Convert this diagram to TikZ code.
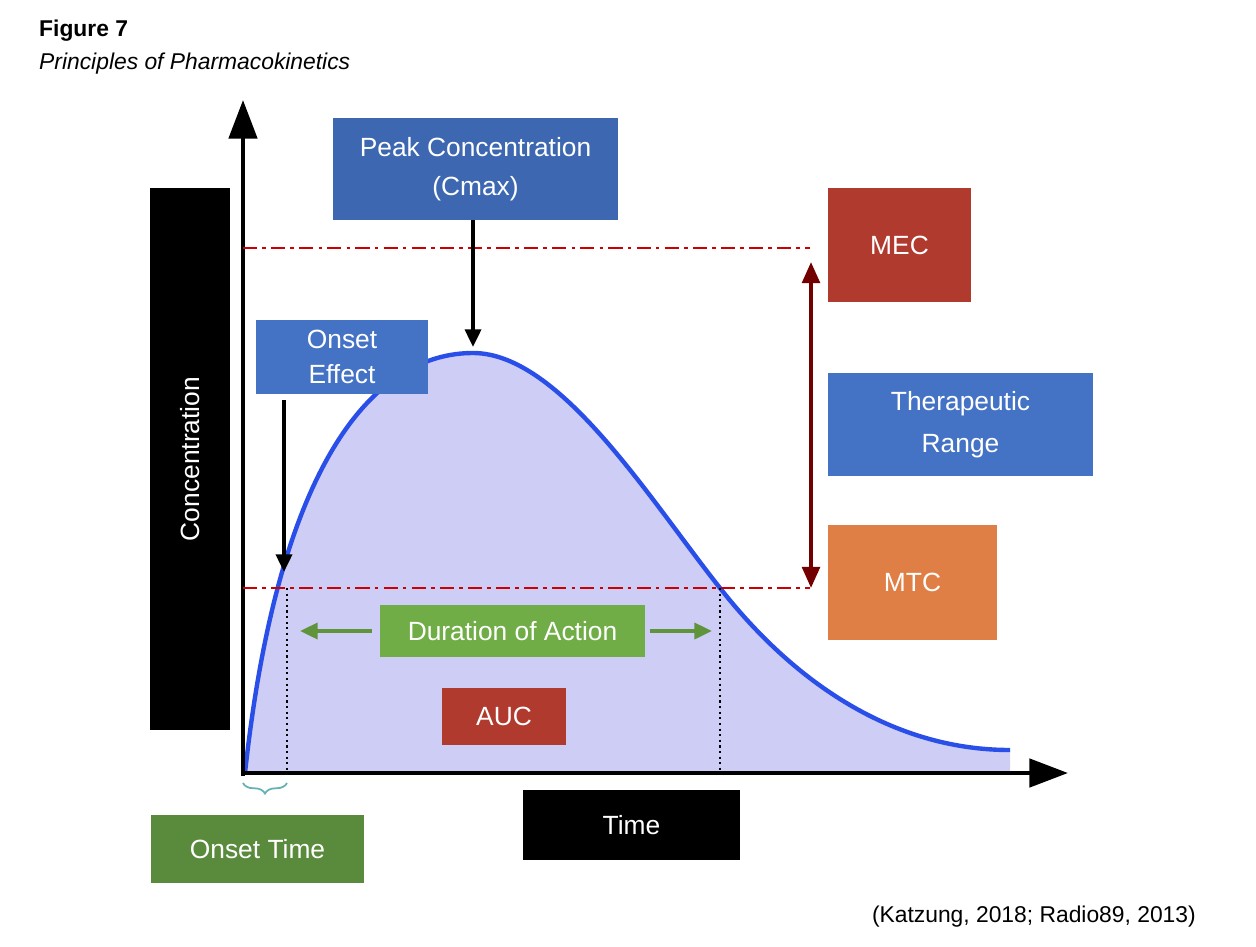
\documentclass[tikz,border=0pt]{standalone}
\usepackage{fontspec}
\setmainfont{Liberation Sans}
\usetikzlibrary{arrows.meta,decorations.pathreplacing}
\definecolor{bblue}{HTML}{4472C4}
\definecolor{rred}{HTML}{B03A2E}
\definecolor{oorange}{HTML}{E07F45}
\definecolor{ggreen}{HTML}{70AD47}
\definecolor{dgreen}{HTML}{5A8A3C}
\definecolor{lav}{HTML}{CDCDF5}
\definecolor{cblue}{HTML}{2A4FE8}
\begin{document}
\begin{tikzpicture}[x=0.02cm,y=-0.02cm,
 box/.style={draw=none,text=white,align=center,font=\fontsize{15}{18}\selectfont,inner sep=0pt},
 dd/.style={red!80!black,line width=1.2pt,dash pattern=on 8pt off 3pt on 2pt off 3pt},
 ar/.style={line width=2.2pt,-{Triangle[length=10pt,width=9pt]}}]
\useasboundingbox (0,0) rectangle (1256,946);
\node[anchor=base west,font=\bfseries\fontsize{13}{15}\selectfont] (fig) at (33,37) {Figure 7};
\node[anchor=base west,font=\itshape\fontsize{13}{15}\selectfont] (sub) at (33,70) {Principles of Pharmacokinetics};
\node[anchor=base east,font=\fontsize{13}{15}\selectfont] (cit) at (1202,922) {(Katzung, 2018; Radio89, 2013)};
% curve
\fill[lav] (245,773) .. controls (280,450) and (380,353) .. (473,353) .. controls (560,353) and (650,500) .. (720,588) .. controls (800,690) and (900,750) .. (1010,750) -- (1010,773) -- cycle;
\draw[cblue,line width=2.5pt] (245,773) .. controls (280,450) and (380,353) .. (473,353) .. controls (560,353) and (650,500) .. (720,588) .. controls (800,690) and (900,750) .. (1010,750);
% axes
\coordinate (o) at (243,773);
\coordinate (ytop) at (243,100);
\coordinate (xend) at (1068,773);
\draw[line width=2.5pt,-{Triangle[length=22pt,width=16pt]}] (243,776) -- (ytop);
\draw[line width=2.5pt,-{Triangle[length=22pt,width=16pt]}] (241,773) -- (xend);
% dash lines
\coordinate (m1) at (243,248); \coordinate (m2) at (810,248);
\coordinate (t1) at (243,588); \coordinate (t2) at (810,588);
\draw[dd] (m1) -- (m2);
\draw[dd] (t1) -- (t2);
\coordinate (d1) at (287,588); \coordinate (d1b) at (287,773);
\coordinate (d2) at (720,588); \coordinate (d2b) at (720,773);
\draw[dotted,line width=1.2pt] (d1) -- (d1b);
\draw[dotted,line width=1.2pt] (d2) -- (d2b);
% boxes
\node[box,fill=black,minimum width=80*0.02cm,minimum height=542*0.02cm] (conc) at (190,459) {\rotatebox{90}{Concentration}};
\node[box,fill=bblue!90!black,minimum width=285*0.02cm,minimum height=102*0.02cm] (peak) at (475.5,169) {Peak Concentration\\[4pt](Cmax)};
\node[box,fill=rred,minimum width=143*0.02cm,minimum height=114*0.02cm] (mec) at (899.5,245) {MEC};
\node[box,fill=bblue,minimum width=265*0.02cm,minimum height=103*0.02cm] (ther) at (960.5,424.5) {Therapeutic\\[6pt]Range};
\node[box,fill=oorange,minimum width=169*0.02cm,minimum height=115*0.02cm] (mtc) at (912.5,582.5) {MTC};
\node[box,fill=bblue,minimum width=172*0.02cm,minimum height=74*0.02cm] (onset) at (342,357) {Onset\\[2pt]Effect};
\node[box,fill=ggreen,minimum width=265*0.02cm,minimum height=52*0.02cm] (dur) at (512.5,631) {Duration of Action};
\node[box,fill=rred,minimum width=124*0.02cm,minimum height=57*0.02cm] (auc) at (504,716.5) {AUC};
\node[box,fill=dgreen,minimum width=213*0.02cm,minimum height=68*0.02cm] (ot) at (257.5,849) {Onset Time};
\node[box,fill=black,minimum width=217*0.02cm,minimum height=70*0.02cm] (time) at (631.5,825) {Time};
% arrows
\coordinate (pk) at (473,347);
\draw[ar] (peak.south -| pk) -- (pk);
\coordinate (on) at (284,572);
\draw[ar] (284,400) -- (on);
\coordinate (tr1) at (811,262); \coordinate (tr2) at (811,588);
\draw[line width=2.2pt,red!45!black,{Triangle[length=12pt,width=10pt]}-{Triangle[length=12pt,width=10pt]}] (tr1) -- (tr2);
\coordinate (la) at (300,631); \coordinate (ra) at (712,631);
\draw[ar,ggreen!85!black] (dur.west) ++(-8,0) -- (la);
\draw[ar,ggreen!85!black] (dur.east) ++(5,0) -- (ra);
% brace
\coordinate (b1) at (287,783); \coordinate (b2) at (243,783);
\draw[teal!60,line width=1pt,decorate,decoration={brace,amplitude=6pt}] (b1) -- (b2);
\end{tikzpicture}
\end{document}
